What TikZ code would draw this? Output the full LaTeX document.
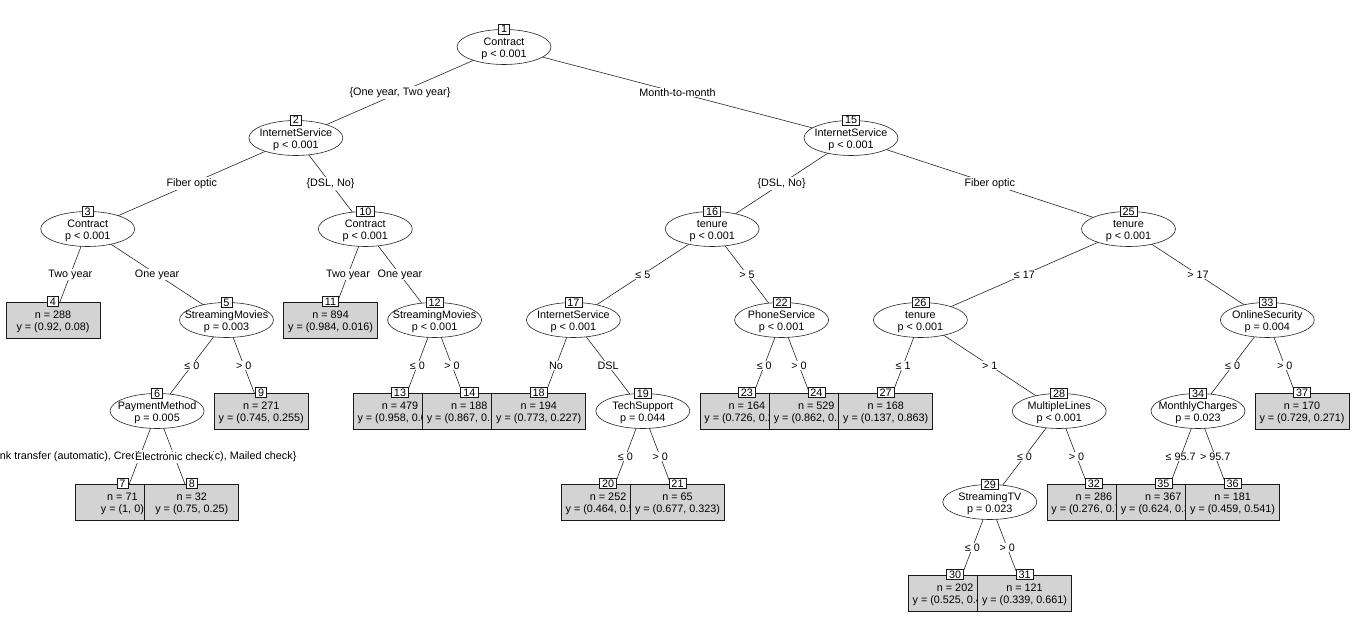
\documentclass[tikz,border=0pt]{standalone}
\usepackage{fontspec}
\setmainfont{Liberation Sans}
\usetikzlibrary{shapes.geometric,calc}
\definecolor{lgray}{HTML}{D3D3D3}
\newcommand\termnode[3]{%
  \node[term] (n#1) at (c#1) {};
  \node[ntext] (t#1) at (c#1) {n = #2\\y = #3};
  \node[idbox] (i#1) at (n#1.north) {#1};}
\newcommand\innernode[3]{%
  \node[innode] (n#1) at (c#1) {};
  \node[ntext] (t#1) at (c#1) {#2\\p #3};
  \node[idbox] (i#1) at (n#1.north) {#1};}
\begin{document}
\begin{tikzpicture}[x=1pt,y=-1pt,
  every node/.style={font=\fontsize{10.8}{12}\selectfont},
  innode/.style={ellipse,draw=black!85,line width=0.6pt,fill=white,minimum width=94pt,minimum height=35pt,inner sep=0pt},
  ntext/.style={align=center,inner sep=0pt,yshift=-1.8pt},
  term/.style={rectangle,draw=black!90,line width=0.75pt,fill=lgray,minimum width=94pt,minimum height=36pt,inner sep=0pt},
  idbox/.style={rectangle,draw=black!90,line width=0.6pt,fill=white,inner xsep=2.5pt,inner ysep=0pt,minimum height=10pt,text height=7.6pt,text depth=0pt},
  elab/.style={fill=white,inner xsep=1pt,inner ysep=1pt},
  conn/.style={draw=black!85,line width=0.6pt}]
\useasboundingbox (0,0) rectangle (1358,626);
\fill[white] (0,0) rectangle (1358,626);
% centres
\coordinate (c1) at (504.0,47);
\coordinate (c2) at (295.9,138);
\coordinate (c15) at (851.0,138);
\coordinate (c3) at (87.7,229);
\coordinate (c10) at (365.3,229);
\coordinate (c16) at (712.2,229);
\coordinate (c25) at (1128.5,229);
\coordinate (c4) at (53.0,320);
\coordinate (c5) at (226.5,320);
\coordinate (c11) at (330.6,320);
\coordinate (c12) at (434.6,320);
\coordinate (c17) at (573.4,320);
\coordinate (c22) at (781.6,320);
\coordinate (c26) at (920.4,320);
\coordinate (c33) at (1267.3,320);
\coordinate (c6) at (157.1,411);
\coordinate (c9) at (261.2,411);
\coordinate (c13) at (400.0,411);
\coordinate (c14) at (469.3,411);
\coordinate (c18) at (538.7,411);
\coordinate (c19) at (642.8,411);
\coordinate (c23) at (746.9,411);
\coordinate (c24) at (816.3,411);
\coordinate (c27) at (885.7,411);
\coordinate (c28) at (1059.2,411);
\coordinate (c34) at (1198.0,411);
\coordinate (c37) at (1302.0,411);
\coordinate (c7) at (122.4,502);
\coordinate (c8) at (191.8,502);
\coordinate (c20) at (608.1,502);
\coordinate (c21) at (677.5,502);
\coordinate (c29) at (989.8,502);
\coordinate (c32) at (1093.9,502);
\coordinate (c35) at (1163.3,502);
\coordinate (c36) at (1232.6,502);
\coordinate (c30) at (955.1,593);
\coordinate (c31) at (1024.5,593);
% connectors
\draw[conn] (c1)--(c2) (c2)--(c3) (c3)--(c4) (c3)--(c5) (c5)--(c6) (c6)--(c7) (c6)--(c8) (c5)--(c9)
  (c2)--(c10) (c10)--(c11) (c10)--(c12) (c12)--(c13) (c12)--(c14)
  (c1)--(c15) (c15)--(c16) (c16)--(c17) (c17)--(c18) (c17)--(c19) (c19)--(c20) (c19)--(c21)
  (c16)--(c22) (c22)--(c23) (c22)--(c24)
  (c15)--(c25) (c25)--(c26) (c26)--(c27) (c26)--(c28) (c28)--(c29) (c29)--(c30) (c29)--(c31) (c28)--(c32)
  (c25)--(c33) (c33)--(c34) (c34)--(c35) (c34)--(c36) (c33)--(c37);
% edge labels
\node[elab] (e1-2) at ($(c1)!0.5!(c2)$) {\{One year, Two year\}};
\node[elab] (e2-3) at ($(c2)!0.5!(c3)$) {Fiber optic};
\node[elab] (e3-4) at ($(c3)!0.5!(c4)$) {Two year};
\node[elab] (e3-5) at ($(c3)!0.5!(c5)$) {One year};
\node[elab] (e5-6) at ($(c5)!0.5!(c6)$) {≤ 0};
\node[elab] (e6-7) at ($(c6)!0.5!(c7)$) {\{Bank transfer (automatic), Credit card (automatic), Mailed check\}};
\node[elab] (e6-8) at ($(c6)!0.5!(c8)$) {Electronic check};
\node[elab] (e5-9) at ($(c5)!0.5!(c9)$) {> 0};
\node[elab] (e2-10) at ($(c2)!0.5!(c10)$) {\{DSL, No\}};
\node[elab] (e10-11) at ($(c10)!0.5!(c11)$) {Two year};
\node[elab] (e10-12) at ($(c10)!0.5!(c12)$) {One year};
\node[elab] (e12-13) at ($(c12)!0.5!(c13)$) {≤ 0};
\node[elab] (e12-14) at ($(c12)!0.5!(c14)$) {> 0};
\node[elab] (e1-15) at ($(c1)!0.5!(c15)$) {Month-to-month};
\node[elab] (e15-16) at ($(c15)!0.5!(c16)$) {\{DSL, No\}};
\node[elab] (e16-17) at ($(c16)!0.5!(c17)$) {≤ 5};
\node[elab] (e17-18) at ($(c17)!0.5!(c18)$) {No};
\node[elab] (e17-19) at ($(c17)!0.5!(c19)$) {DSL};
\node[elab] (e19-20) at ($(c19)!0.5!(c20)$) {≤ 0};
\node[elab] (e19-21) at ($(c19)!0.5!(c21)$) {> 0};
\node[elab] (e16-22) at ($(c16)!0.5!(c22)$) {> 5};
\node[elab] (e22-23) at ($(c22)!0.5!(c23)$) {≤ 0};
\node[elab] (e22-24) at ($(c22)!0.5!(c24)$) {> 0};
\node[elab] (e15-25) at ($(c15)!0.5!(c25)$) {Fiber optic};
\node[elab] (e25-26) at ($(c25)!0.5!(c26)$) {≤ 17};
\node[elab] (e26-27) at ($(c26)!0.5!(c27)$) {≤ 1};
\node[elab] (e26-28) at ($(c26)!0.5!(c28)$) {> 1};
\node[elab] (e28-29) at ($(c28)!0.5!(c29)$) {≤ 0};
\node[elab] (e29-30) at ($(c29)!0.5!(c30)$) {≤ 0};
\node[elab] (e29-31) at ($(c29)!0.5!(c31)$) {> 0};
\node[elab] (e28-32) at ($(c28)!0.5!(c32)$) {> 0};
\node[elab] (e25-33) at ($(c25)!0.5!(c33)$) {> 17};
\node[elab] (e33-34) at ($(c33)!0.5!(c34)$) {≤ 0};
\node[elab] (e34-35) at ($(c34)!0.5!(c35)$) {≤ 95.7};
\node[elab,inner xsep=4pt] (e34-36) at ($(c34)!0.5!(c36)$) {> 95.7};
\node[elab] (e33-37) at ($(c33)!0.5!(c37)$) {> 0};
% terminal nodes, left to right
\termnode{4}{288}{(0.92, 0.08)}
\termnode{7}{71}{(1, 0)}
\termnode{8}{32}{(0.75, 0.25)}
\termnode{9}{271}{(0.745, 0.255)}
\termnode{11}{894}{(0.984, 0.016)}
\termnode{13}{479}{(0.958, 0.042)}
\termnode{14}{188}{(0.867, 0.133)}
\termnode{18}{194}{(0.773, 0.227)}
\termnode{20}{252}{(0.464, 0.536)}
\termnode{21}{65}{(0.677, 0.323)}
\termnode{23}{164}{(0.726, 0.274)}
\termnode{24}{529}{(0.862, 0.138)}
\termnode{27}{168}{(0.137, 0.863)}
\termnode{30}{202}{(0.525, 0.475)}
\termnode{31}{121}{(0.339, 0.661)}
\termnode{32}{286}{(0.276, 0.724)}
\termnode{35}{367}{(0.624, 0.376)}
\termnode{36}{181}{(0.459, 0.541)}
\termnode{37}{170}{(0.729, 0.271)}
% inner nodes
\innernode{1}{Contract}{< 0.001}
\innernode{2}{InternetService}{< 0.001}
\innernode{3}{Contract}{< 0.001}
\innernode{5}{StreamingMovies}{= 0.003}
\innernode{6}{PaymentMethod}{= 0.005}
\innernode{10}{Contract}{< 0.001}
\innernode{12}{StreamingMovies}{< 0.001}
\innernode{15}{InternetService}{< 0.001}
\innernode{16}{tenure}{< 0.001}
\innernode{17}{InternetService}{< 0.001}
\innernode{19}{TechSupport}{= 0.044}
\innernode{22}{PhoneService}{< 0.001}
\innernode{25}{tenure}{< 0.001}
\innernode{26}{tenure}{< 0.001}
\innernode{28}{MultipleLines}{< 0.001}
\innernode{29}{StreamingTV}{= 0.023}
\innernode{33}{OnlineSecurity}{= 0.004}
\innernode{34}{MonthlyCharges}{= 0.023}
\end{tikzpicture}
\end{document}
